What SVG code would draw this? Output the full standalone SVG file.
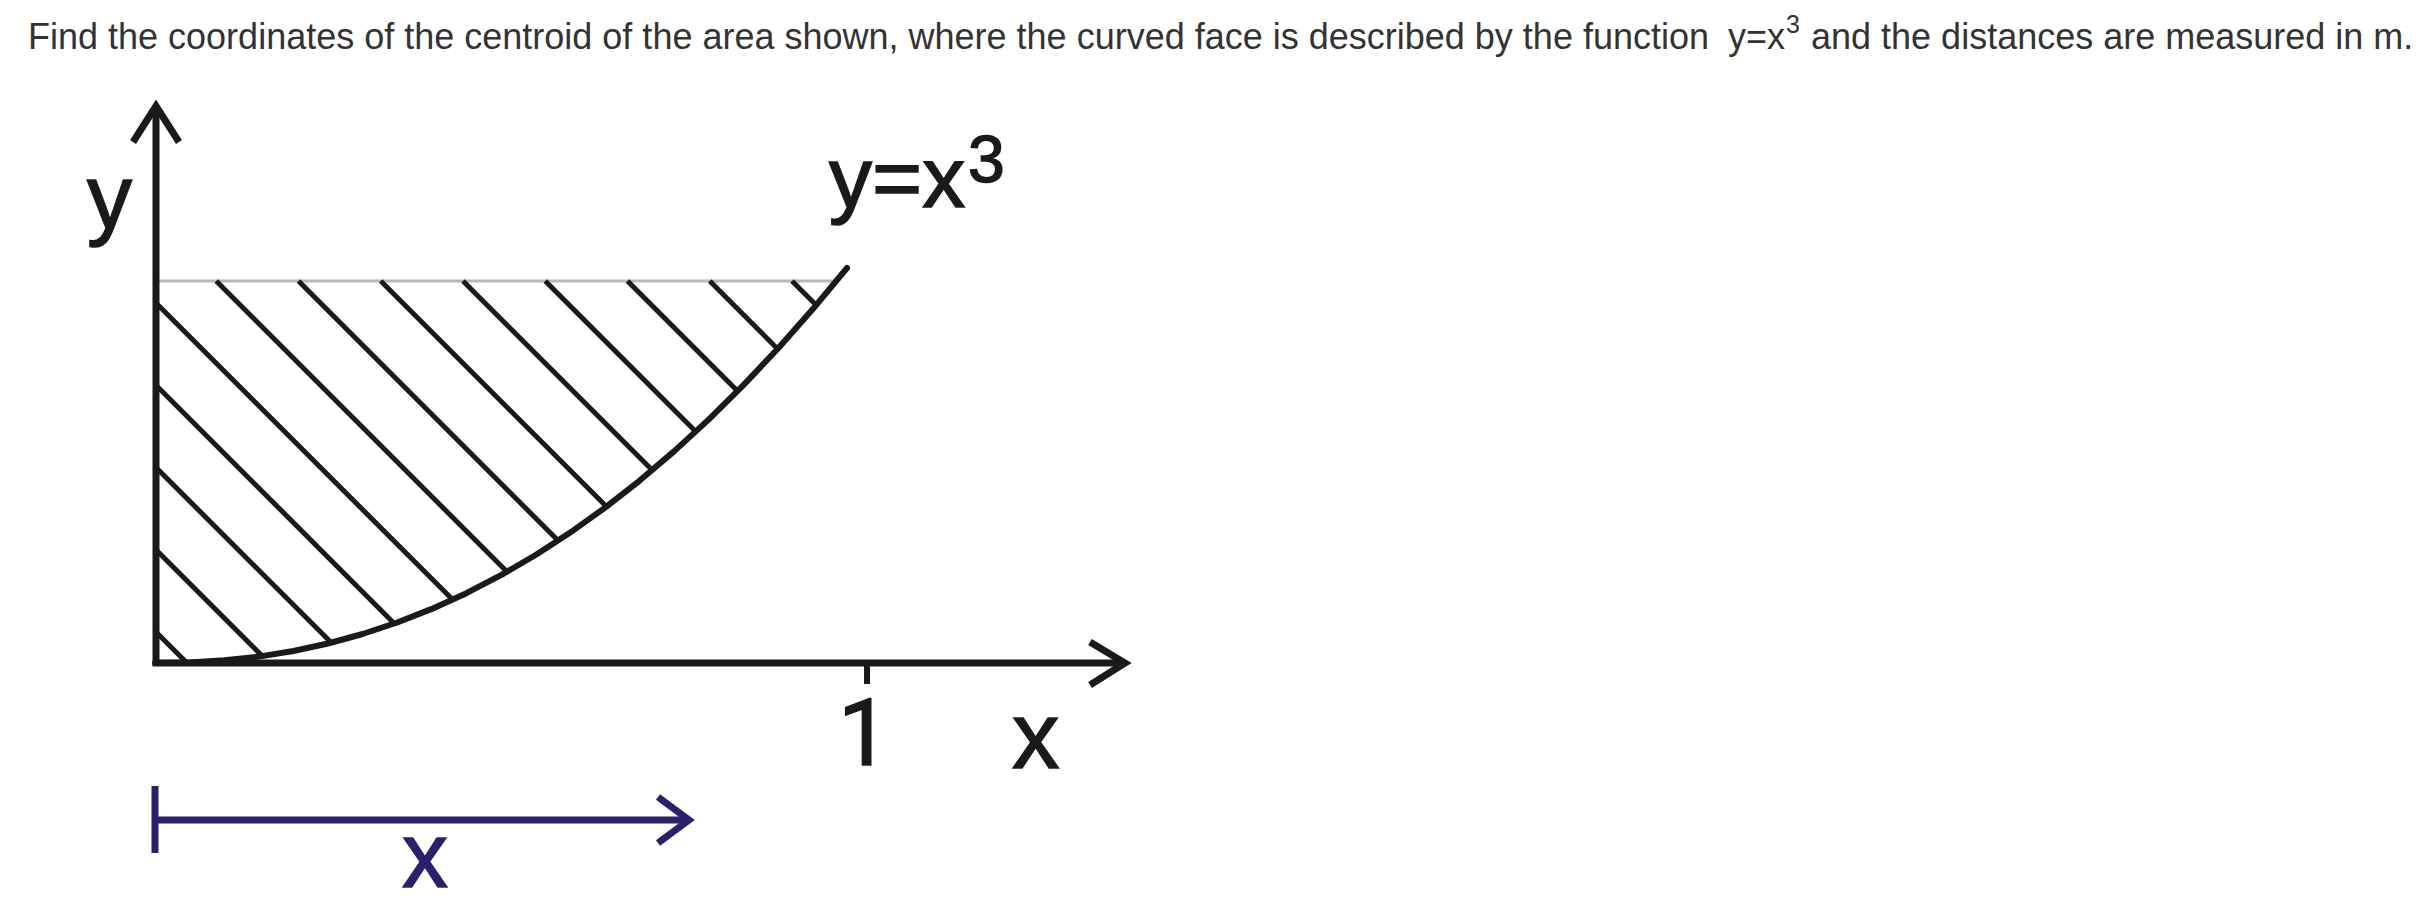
<svg xmlns="http://www.w3.org/2000/svg" width="2430" height="918" viewBox="0 0 2430 918">
<style>
.title{font-family:"Liberation Sans",Arial,sans-serif;font-size:36px;fill:#333}
.lbl{font-family:"Liberation Sans",Arial,sans-serif;fill:#1a1a1a;stroke:#1a1a1a;stroke-width:1.5}
.ax{stroke:#1a1a1a;stroke-width:7;fill:none;stroke-linejoin:miter}
.hatch{stroke:#1a1a1a;stroke-width:5;fill:none}
.curve{stroke:#1a1a1a;stroke-width:6;fill:none;stroke-linejoin:round;stroke-linecap:round}
.blue{stroke:#2c1f6b;stroke-width:7;fill:none}
.bluetxt{font-family:"Liberation Sans",Arial,sans-serif;fill:#2c1f6b;stroke:#2c1f6b;stroke-width:1.5}
</style>
<rect width="2430" height="918" fill="#fff"/>
<g id="title">
<text class="title" x="28" y="49">Find the coordinates of the centroid of the area shown, where the curved face is described by the function</text>
<text class="title" x="1728" y="49">y=x</text>
<text class="title" x="1786" y="33" style="font-size:25px">3</text>
<text class="title" x="1811" y="49">and the distances are measured in m.</text>
</g>
<g id="region">
<path d="M158,281 L836,281" stroke="#b8b8b8" stroke-width="3" fill="none"/>
<path class="hatch" d="M155,631 L186.5,662.5 M155,548.75 L262.3,656 M155,466.5 L331.1,642.6 M155,384.25 L394.2,623.4 M155,302 L452.5,599.5 M216.25,281 L507,571.7 M298.5,281 L558,540.5 M380.75,281 L606.4,506.6 M463,281 L652.1,470.1 M545.25,281 L695.7,431.5 M627.5,281 L737.5,391 M709.75,281 L777.6,348.9 M792,281 L816.1,305.1"/>
<polyline class="curve" points="155,663 189.6,662.4 224.2,660.3 258.8,656.6 293.4,651 328,643.5 362.6,634 397.2,622.5 431.8,608.9 466.4,593.2 501,575.2 535.6,555 570.2,532.6 604.8,507.9 639.4,480.8 674,451.4 708.6,419.6 743.2,385.4 777.8,348.7 812.4,309.6 847,268"/>
</g>
<g id="axes">
<path class="ax" d="M156,108 L156,663 L1124,663"/>
<path class="ax" d="M133,142 L156,106 L179,142"/>
<path class="ax" d="M1090,642 L1125,663 L1090,685"/>
<path class="ax" d="M867,663 L867,684" style="stroke-width:6"/>
</g>
<g id="labels">
<text class="lbl" x="87" y="228" font-size="90">y</text>
<text class="lbl" x="829" y="207" font-size="86">y=x</text>
<text class="lbl" x="968" y="182" font-size="66">3</text>
<text class="lbl" x="838" y="765" font-size="92" style="font-family:Roboto,'Liberation Sans',sans-serif">1</text>
<text class="lbl" x="1012" y="768" font-size="95">x</text>
</g>
<g id="distance-x">
<path class="blue" d="M155,786 L155,853 M155,820 L688,820"/>
<path class="blue" d="M658,797 L689,820 L658,843"/>
<text class="bluetxt" x="402" y="887" font-size="92">x</text>
</g>
</svg>
